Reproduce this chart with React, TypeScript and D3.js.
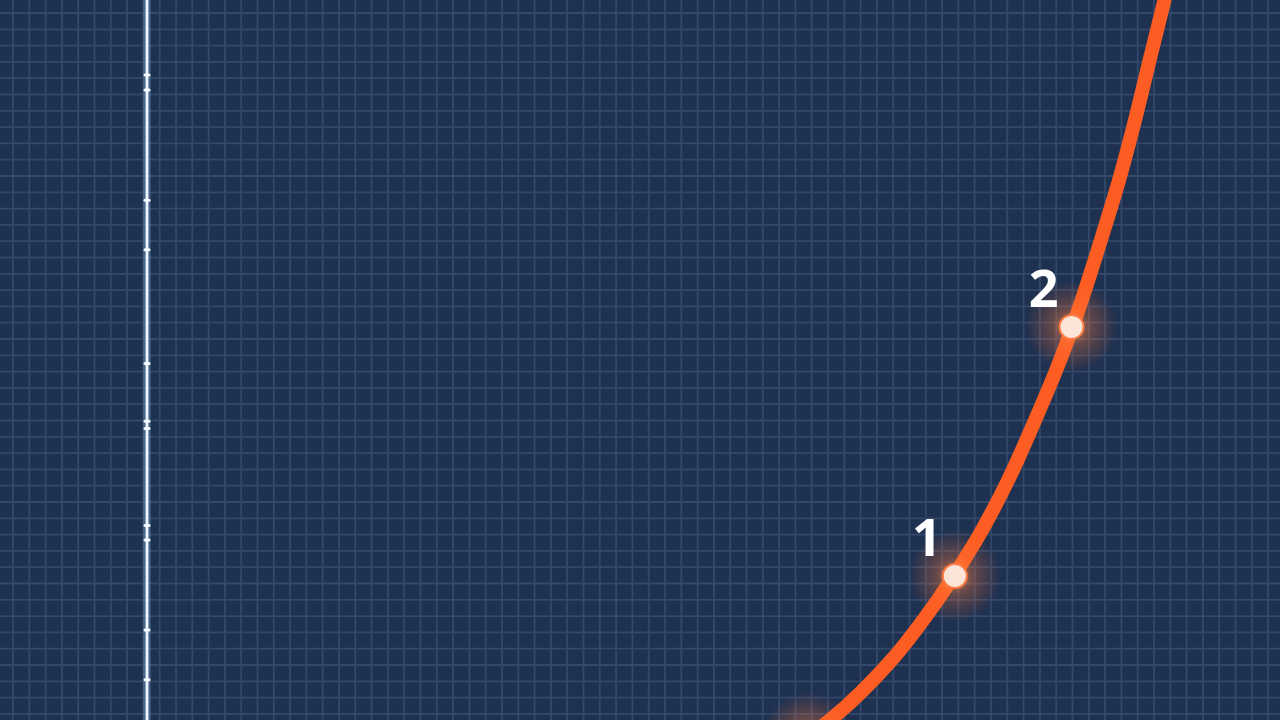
import * as d3 from 'd3';

const W = 1280;
const H = 720;

// curve, in data units (x: 0..10, y: 0..10)
const CURVE_X = [5.25, 6.03, 6.57, 6.98, 7.32, 7.6, 7.84, 8.06, 8.25, 8.42, 8.58, 8.72, 8.85, 8.98, 9.06];
const CURVE_Y = [-0.83, 0, 0.83, 1.67, 2.5, 3.33, 4.17, 5.0, 5.83, 6.67, 7.5, 8.33, 9.17, 10.0, 10.56];

// marked points on the curve (the first one sits just below the frame)
const POINT_LABELS = ['', '1', '2'];
const POINT_X = [5.83, 7.13, 8.16];
const POINT_Y = [-0.25, 2.0, 5.46];

// small tick marks along the vertical axis
const AXIS_TICKS = [0.56, 1.25, 2.5, 2.7, 4.05, 4.15, 4.95, 6.53, 7.22, 8.75, 8.96];

const GRID_STEP = 16.3;
const GRID_OFFSET = 13;

export default function App() {
  const x = d3.scaleLinear().domain([0, 10]).range([147, W]);
  const y = d3.scaleLinear().domain([0, 10]).range([H, 0]);

  const pts: [number, number][] = CURVE_X.map((v, i) => [v, CURVE_Y[i]]);
  const line = d3
    .line<[number, number]>()
    .x(d => x(d[0]))
    .y(d => y(d[1]))
    .curve(d3.curveCatmullRom.alpha(0.5));

  const gridX = d3.range(GRID_OFFSET, W, GRID_STEP);
  const gridY = d3.range(GRID_OFFSET, H, GRID_STEP);

  return (
    <div style={{ position: 'fixed', left: 0, top: 0, width: W, height: H, background: '#1f3150' }}>
      <svg width={W} height={H} style={{ display: 'block' }}>
        <defs>
          <radialGradient id="glow">
            <stop offset="0%" stopColor="#ff9a5a" stopOpacity={0.8} />
            <stop offset="40%" stopColor="#ff7a3a" stopOpacity={0.32} />
            <stop offset="100%" stopColor="#ff6a2a" stopOpacity={0} />
          </radialGradient>
        </defs>

        <rect width={W} height={H} fill="#1f3150" />

        <g stroke="#364b6e" strokeWidth={1.8} opacity={0.9}>
          {gridX.map(gx => (
            <line key={`gx${gx}`} x1={gx} x2={gx} y1={0} y2={H} />
          ))}
          {gridY.map(gy => (
            <line key={`gy${gy}`} x1={0} x2={W} y1={gy} y2={gy} />
          ))}
        </g>

        {/* vertical axis with a soft blue halo */}
        <line x1={x(0)} x2={x(0)} y1={0} y2={H} stroke="#7fa6d4" strokeWidth={8} opacity={0.25} />
        <line x1={x(0)} x2={x(0)} y1={0} y2={H} stroke="#a9c8ea" strokeWidth={4.5} opacity={0.6} />
        <line x1={x(0)} x2={x(0)} y1={0} y2={H} stroke="#eef6ff" strokeWidth={2.2} />
        {AXIS_TICKS.map(t => (
          <rect key={t} x={x(0) - 3.5} y={y(t) - 1.5} width={7} height={3} rx={1.5} fill="#f4f9ff" />
        ))}

        <path d={line(pts) ?? ''} fill="none" stroke="#fd5d22" strokeWidth={14} strokeLinecap="round" />

        {POINT_X.map((px, i) => {
          const cx = x(px);
          const cy = y(POINT_Y[i]);
          return (
            <g key={i}>
              <circle cx={cx} cy={cy} r={46} fill="url(#glow)" />
              <circle cx={cx} cy={cy} r={12} fill="#fde4d8" stroke="#ff7a40" strokeWidth={2} />
              {POINT_LABELS[i] && (
                <text
                  x={cx - 28}
                  y={cy - 20}
                  textAnchor="middle"
                  fontFamily="'Open Sans', sans-serif"
                  fontWeight={700}
                  fontSize={52}
                  fill="#ffffff"
                >
                  {POINT_LABELS[i]}
                </text>
              )}
            </g>
          );
        })}
      </svg>
    </div>
  );
}
